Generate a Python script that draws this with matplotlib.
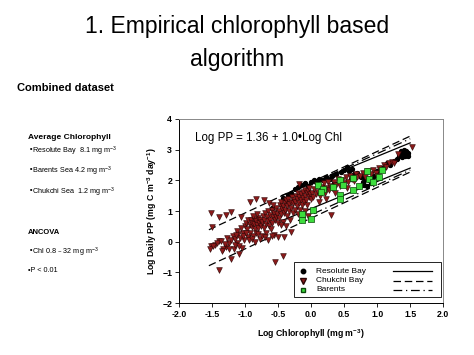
import matplotlib
matplotlib.use('Agg')
import matplotlib.pyplot as plt
from matplotlib.patches import Rectangle
import numpy as np

plt.rcParams['font.family'] = ['Liberation Sans', 'DejaVu Sans']
plt.rcParams['mathtext.default'] = 'regular'

# Chukchi Bay (red triangles)
chukchi_x = [-1.52, -1.51, -1.39, -1.29, -1.22, -1.52, -1.46, -1.54, -1.39, -1.39, -1.22, -1.29, -1.33, -1.25,
             -1.48, -1.42, -1.36, -1.31, -1.27, -1.21, -1.24, -1.35,
             -1.17, -1.13, -1.09, -1.05, -1.11, -1.07, -1.18, -1.15, -1.12, -1.08, -1.04, -1.02, -1.16, -1.10,
             -1.06, -1.01, -1.14, -1.03,
             -0.99, -0.97, -0.96, -0.95, -0.93, -0.92, -0.91, -0.90, -0.89, -0.88, -0.87, -0.86, -0.85, -0.84,
             -0.83, -0.82, -0.81, -0.80, -0.79, -0.78, -0.77, -0.76, -0.98, -0.94, -0.90, -0.85, -0.80, -0.83,
             -0.92, -0.71, -0.88, -0.82,
             -0.74, -0.73, -0.72, -0.71, -0.70, -0.69, -0.68, -0.67, -0.66, -0.65, -0.64, -0.63, -0.62, -0.61,
             -0.60, -0.59, -0.58, -0.57, -0.56, -0.55, -0.55, -0.54, -0.53, -0.52, -0.51, -0.51, -0.74, -0.70,
             -0.66, -0.60, -0.64, -0.58,
             -0.49, -0.48, -0.47, -0.46, -0.45, -0.44, -0.43, -0.42, -0.42, -0.41, -0.41, -0.40, -0.39, -0.38,
             -0.37, -0.36, -0.35, -0.34, -0.33, -0.32, -0.31, -0.30, -0.30, -0.29, -0.28, -0.27, -0.26, -0.25,
             -0.45, -0.38,
             -0.24, -0.23, -0.22, -0.21, -0.20, -0.19, -0.19, -0.18, -0.17, -0.16, -0.15, -0.14, -0.13, -0.12,
             -0.11, -0.10, -0.09, -0.08, -0.07, -0.06, -0.05, -0.04, -0.03, -0.02, -0.01, -0.20, -0.10, -0.05,
             0.01, 0.03, 0.05, 0.07, 0.09, 0.11, 0.13, 0.15, 0.17, 0.19, 0.21, 0.23, 0.25, 0.27, 0.29, 0.30,
             0.12, 0.22,
             0.32, 0.35, 0.38, 0.41, 0.44, 0.47, 0.50, 0.53, 0.56, 0.59, 0.62, 0.65, 0.68, 0.70, 0.36, 0.55,
             0.74, 0.78, 0.82, 0.86, 0.90, 0.94, 0.98, 1.02, 1.06, 1.10, 1.14, 1.18, 1.22, 1.26, 1.31, 1.52,
             0.88, 1.00]
chukchi_y = [0.95, 0.48, 0.80, 0.88, 0.97, -0.13, -0.10, -0.22, 0.03, -0.93, -0.57, -0.16, -0.24, -0.05,
             -0.15, -0.05, 0.01, -0.08, 0.12, 0.05, -0.22, -0.30,
             -0.24, -0.03, -0.40, -0.19, 0.25, 0.79, 0.18, 0.08, 0.35, 0.12, 0.30, 0.05, -0.12, -0.15,
             0.45, 0.52, 0.22, 0.20,
             0.62, 0.40, 0.15, 0.70, 0.55, 0.30, 0.72, 0.48, 0.62, 0.20, 0.75, 0.58, 0.42, 0.68,
             0.30, 0.55, 0.78, 0.45, 0.62, 0.10, 0.70, 0.52, 0.28, 0.05, 0.10, 0.00, 0.25, 1.40,
             1.29, 1.36, 0.85, 0.92,
             0.65, 0.85, 0.45, 0.72, 0.95, 0.58, 0.30, 0.80, 0.68, 1.00, 0.50, 0.88, 0.72, 0.40,
             1.05, 0.62, 0.82, 0.95, 0.22, -0.66, 0.70, 1.10, 0.80, 0.90, 0.15, 0.60, 0.20, 0.15,
             0.05, 0.20, 1.25, 1.20,
             1.00, 0.78, 1.20, 0.92, 1.30, 1.08, 0.65, -0.45, 1.15, 0.15, 0.95, 1.25, 1.05, 1.35,
             0.85, 1.18, 1.40, 1.00, 1.22, 0.70, 1.30, 0.31, 1.10, 1.45, 0.95, 1.25, 1.35, 1.05,
             0.55, 0.50,
             1.30, 1.50, 1.15, 1.40, 1.60, 1.88, 1.25, 1.45, 1.05, 1.55, 1.35, 1.20, 1.62, 1.42,
             1.28, 1.70, 1.50, 1.35, 1.58, 1.20, 1.65, 1.45, 1.75, 1.55, 1.38, 0.90, 1.00, 0.85,
             1.60, 1.45, 1.72, 1.55, 1.85, 1.62, 1.48, 1.78, 1.65, 1.90, 1.58, 1.75, 1.95, 1.68, 1.82, 0.88,
             1.30, 1.40,
             1.75, 1.95, 1.85, 2.05, 1.80, 2.00, 1.90, 2.10, 1.95, 2.15, 2.05, 1.98, 2.20, 2.10, 1.60, 1.75,
             2.15, 2.25, 2.10, 2.30, 2.20, 2.35, 2.25, 2.40, 2.35, 2.50, 2.45, 2.55, 2.60, 2.58, 2.86, 3.10,
             2.05, 2.15]

# Resolute Bay (black circles)
resolute_x = [-0.60, -0.42, -0.35, -0.30, -0.25, -0.20, -0.15, -0.10, -0.05, 0.00, 0.05, 0.08, 0.12, 0.15,
              0.18, 0.22, 0.28, 0.32, 0.35, 0.38, 0.45, 0.50, 0.55, 0.58, 0.60, 0.62, 0.65, 0.70, 0.75,
              0.78, 0.80, 0.82, 0.85, 0.88, 0.90, 0.92, 0.95, 1.00, 1.05, 1.10, 1.15, 1.20, 1.25, 1.30,
              1.33, 1.35, 1.36, 1.37, 1.38, 1.39, 1.40, 1.41, 1.42, 1.43, 1.44, 1.45, 1.46, 1.47]
resolute_y = [1.10, 1.42, 1.52, 1.60, 1.72, 1.78, 1.85, 1.90, 1.82, 1.95, 2.02, 1.95, 2.05, 1.75,
              2.00, 2.10, 2.05, 2.15, 1.90, 2.20, 2.28, 2.35, 2.45, 2.30, 2.05, 2.38, 2.20, 2.25, 2.10,
              1.95, 1.85, 2.05, 1.80, 2.00, 1.90, 2.05, 2.15, 2.30, 2.40, 2.45, 2.55, 2.50, 2.62, 2.70,
              2.78, 2.85, 2.95, 2.75, 2.92, 2.82, 2.88, 2.98, 2.80, 2.95, 2.85, 2.90, 2.78, 2.88]

# Barents (green squares)
barents_x = [0.10, 0.18, 0.15, 0.43, 0.43, 0.43, 0.63, 0.73, 0.87, 0.93, 0.84, 1.07, 1.03,
             -0.14, -0.14, -0.01, 0.03, 0.63, 0.48, 0.33]
barents_y = [1.86, 1.73, 1.63, 2.01, 1.52, 1.39, 1.70, 1.81, 2.03, 1.95, 2.30, 2.33, 2.12,
             0.92, 0.70, 0.75, 1.03, 2.09, 1.84, 1.79]

# prediction bands: (x start, x end, intercept, slope)
chukchi_band = [(-1.55, 1.5, 1.94, 1.0), (-1.55, 1.5, 0.77, 1.0)]
resolute_band = [(-0.45, 1.5, 1.90, 0.88), (-0.45, 1.5, 1.08, 0.88)]
barents_band = [(-0.2, 1.5, 1.90, 0.97), (-0.2, 1.5, 0.88, 0.97)]

fig = plt.figure(figsize=(4.74, 3.55), dpi=100)
ax = fig.add_axes([0.378, 0.146, 0.557, 0.519])

ax.scatter(resolute_x, resolute_y, marker='o', s=8, c='black', zorder=3)
ax.scatter(chukchi_x, chukchi_y, marker='v', s=17, c='#8b1a1a', edgecolors='#2a0505', linewidths=0.4, zorder=4)
ax.scatter(barents_x, barents_y, marker='s', s=16, c='#3ddc3d', edgecolors='#0b4a0b', linewidths=0.5, zorder=5)

for band, ls in [(chukchi_band, (0, (6, 3))), (resolute_band, '-'), (barents_band, (0, (7, 3, 1, 3)))]:
    for x0, x1, b, m in band:
        xs = np.array([x0, x1])
        ax.plot(xs, b + m * xs, color='black', lw=0.9, linestyle=ls, zorder=2)

ax.set_xlim(-2, 2)
ax.set_ylim(-2, 4)
ax.set_xticks(np.arange(-2, 2.01, 0.5))
ax.set_xticklabels(['%.1f' % v for v in np.arange(-2, 2.01, 0.5)])
ax.set_yticks(range(-2, 5))
ax.tick_params(direction='out', length=3, width=0.6, labelsize=6.3, pad=2)
for lab in ax.get_xticklabels() + ax.get_yticklabels():
    lab.set_fontweight('bold')
for s in ax.spines.values():
    s.set_linewidth(0.7)
ax.spines['top'].set_color('#888888')
ax.spines['right'].set_color('#888888')

ax.set_xlabel('Log Chlorophyll (mg m$^{-3}$)', fontsize=6.3, fontweight='bold', labelpad=6)
ax.set_ylabel('Log Daily PP (mg C m$^{-3}$ day$^{-1}$)', fontsize=6.3, fontweight='bold', labelpad=2)

ax.text(0.06, 0.895, 'Log PP = 1.36 + 1.0\u2022Log Chl', transform=ax.transAxes, fontsize=8.3, va='center')

# legend box drawn by hand
ax.add_patch(Rectangle((0.436, 0.033), 0.556, 0.19, transform=ax.transAxes, facecolor='white',
                       edgecolor='black', lw=0.6, zorder=6))
entries = [('Resolute Bay', dict(marker='o', color='black', ms=3.2), '-'),
           ('Chukchi Bay', dict(marker='v', color='#8b1a1a', mec='#2a0505', ms=4), (0, (6, 3))),
           ('Barents', dict(marker='s', color='#3ddc3d', mec='#0b4a0b', ms=3.5), (0, (7, 3, 1, 3)))]
for i, (name, mk, ls) in enumerate(entries):
    yy = 0.172 - i * 0.05
    ax.plot([0.47], [yy], transform=ax.transAxes, linestyle='none', zorder=7, **mk)
    ax.text(0.52, yy, name, transform=ax.transAxes, fontsize=6, va='center', zorder=7)
    ax.plot([0.81, 0.958], [yy, yy], transform=ax.transAxes, color='black', lw=0.9, linestyle=ls, zorder=7)

# slide text
fig.text(0.5, 0.924, '1. Empirical chlorophyll based', ha='center', va='center', fontsize=16.5)
fig.text(0.5, 0.831, 'algorithm', ha='center', va='center', fontsize=16.5)
fig.text(0.036, 0.752, 'Combined dataset', fontsize=8, fontweight='bold', va='center')

fig.text(0.059, 0.614, 'Average Chlorophyll', fontsize=6, fontweight='bold', va='center')
fig.text(0.059, 0.575, '\u2022Resolute Bay  8.1 mg m$^{-3}$', fontsize=5.2, va='center')
fig.text(0.059, 0.516, '\u2022Barents Sea 4.2 mg m$^{-3}$', fontsize=5.2, va='center')
fig.text(0.059, 0.457, '\u2022Chukchi Sea  1.2 mg m$^{-3}$', fontsize=5.2, va='center')
fig.text(0.059, 0.346, 'ANCOVA', fontsize=5.5, fontweight='bold', va='center')
fig.text(0.059, 0.290, '\u2022Chl 0.8 \u2013 32 mg m$^{-3}$', fontsize=5.2, va='center')
fig.text(0.059, 0.239, '\u2022P < 0.01', fontsize=5.2, va='center')

fig.savefig('out.png', dpi=100)
